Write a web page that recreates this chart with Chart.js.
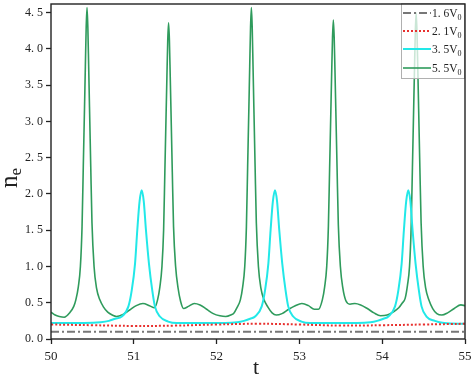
<!DOCTYPE html>
<html>
<head>
<meta charset="utf-8">
<script src="https://cdn.jsdelivr.net/npm/chart.js@4.4.1/dist/chart.umd.min.js"></script>
<style>
  html, body { margin: 0; padding: 0; background: #fff; }
  #wrap { width: 474px; height: 375px; }
</style>
</head>
<body>
<div id="wrap"><canvas id="chartNe"></canvas></div>
<script>
// ── data ────────────────────────────────────────────────
const legendLabels = ['1. 6', '2. 1', '3. 5', '5. 5'];
const xTicks = [50, 51, 52, 53, 54, 55];
const yTicks = [0, 0.5, 1, 1.5, 2, 2.5, 3, 3.5, 4, 4.5];

const t16 = [50, 55];
const n16 = [0.1, 0.1];

const t21 = [50, 50.5, 51, 51.5, 52, 52.5, 53, 53.5, 54, 54.5, 55];
const n21 = [0.2, 0.19, 0.18, 0.185, 0.2, 0.21, 0.2, 0.185, 0.19, 0.2, 0.21];

const t35 = [
  50.00, 50.40, 50.60, 50.70, 50.775, 50.855, 50.935, 50.975, 51.015, 51.042, 51.07, 51.095,
  51.12, 51.147, 51.183, 51.223, 51.255, 51.315, 51.415, 51.52,
  52.10, 52.25, 52.33, 52.405, 52.465, 52.545, 52.585, 52.625, 52.652, 52.68, 52.705,
  52.73, 52.757, 52.793, 52.833, 52.865, 52.925, 53.025, 53.13,
  53.70, 53.86, 53.94, 54.015, 54.075, 54.155, 54.195, 54.235, 54.262, 54.29, 54.315,
  54.34, 54.367, 54.403, 54.443, 54.475, 54.535, 54.635, 54.75, 55.00,
];
const n35 = [
  0.22, 0.22, 0.23, 0.25, 0.28, 0.31, 0.45, 0.67, 1.04, 1.50, 1.90, 2.05,
  1.90, 1.50, 1.04, 0.67, 0.45, 0.31, 0.24, 0.22,
  0.22, 0.23, 0.25, 0.28, 0.31, 0.45, 0.67, 1.04, 1.50, 1.90, 2.05,
  1.90, 1.50, 1.04, 0.67, 0.45, 0.31, 0.24, 0.22,
  0.22, 0.23, 0.25, 0.28, 0.31, 0.45, 0.67, 1.04, 1.50, 1.90, 2.05,
  1.90, 1.50, 1.04, 0.67, 0.45, 0.31, 0.25, 0.22, 0.21,
];

const t55 = [
  50.00, 50.05, 50.10, 50.16, 50.225, 50.275, 50.30, 50.33, 50.355, 50.375, 50.39, 50.405,
  50.415, 50.425, 50.435, 50.445, 50.455, 50.465, 50.48, 50.495, 50.52, 50.55, 50.59,
  50.635, 50.685, 50.74, 50.79, 50.87, 50.95, 51.03, 51.11, 51.19, 51.25,
  51.287, 51.315, 51.34, 51.36, 51.375, 51.39, 51.40, 51.41, 51.42, 51.43, 51.44, 51.45,
  51.465, 51.48, 51.505, 51.535, 51.565, 51.60, 51.66, 51.73, 51.80, 51.88, 51.96, 52.04,
  52.11, 52.17, 52.21, 52.245,
  52.287, 52.315, 52.34, 52.36, 52.375, 52.39, 52.40, 52.41, 52.42, 52.43, 52.44, 52.45,
  52.465, 52.48, 52.505, 52.535, 52.573, 52.62, 52.67, 52.72, 52.79, 52.87, 52.95, 53.03,
  53.11, 53.18, 53.23,
  53.277, 53.305, 53.33, 53.35, 53.365, 53.38, 53.39, 53.40, 53.41, 53.42, 53.43, 53.44,
  53.455, 53.47, 53.495, 53.525, 53.56, 53.61, 53.67, 53.74, 53.82, 53.90, 53.98, 54.06,
  54.13, 54.20, 54.245,
  54.277, 54.305, 54.33, 54.35, 54.365, 54.38, 54.39, 54.40, 54.41, 54.42, 54.43, 54.44,
  54.455, 54.47, 54.495, 54.525, 54.563, 54.61, 54.66, 54.72, 54.79, 54.87, 54.95, 55.00,
];
const n55 = [
  0.37, 0.33, 0.31, 0.30, 0.36, 0.45, 0.54, 0.72, 1.00, 1.55, 2.38, 3.20,
  3.76, 4.30, 4.57, 4.30, 3.76, 3.20, 2.38, 1.60, 1.00, 0.70, 0.54,
  0.44, 0.37, 0.33, 0.31, 0.34, 0.40, 0.46, 0.49, 0.46, 0.43,
  0.54, 0.72, 1.00, 1.50, 2.30, 3.10, 3.62, 4.12, 4.36, 4.12, 3.62, 3.10,
  2.30, 1.55, 1.00, 0.70, 0.52, 0.42, 0.45, 0.49, 0.47, 0.41, 0.35, 0.32,
  0.31, 0.33, 0.36, 0.43,
  0.54, 0.72, 1.00, 1.55, 2.38, 3.20, 3.76, 4.30, 4.57, 4.30, 3.76, 3.20,
  2.38, 1.60, 1.00, 0.70, 0.54, 0.44, 0.36, 0.33, 0.35, 0.41, 0.46, 0.49,
  0.46, 0.41, 0.41,
  0.54, 0.72, 1.00, 1.55, 2.35, 3.15, 3.68, 4.16, 4.40, 4.16, 3.68, 3.15,
  2.35, 1.58, 1.00, 0.70, 0.53, 0.48, 0.49, 0.47, 0.42, 0.36, 0.32, 0.33,
  0.37, 0.43, 0.50,
  0.56, 0.74, 1.00, 1.55, 2.36, 3.18, 3.72, 4.24, 4.50, 4.24, 3.72, 3.18,
  2.36, 1.60, 1.00, 0.70, 0.54, 0.42, 0.35, 0.33, 0.36, 0.42, 0.47, 0.46,
];

const pts = (ts, ns) => ts.map((t, i) => ({ x: t, y: ns[i] }));
const SERIF = '"Liberation Serif", "DejaVu Serif", serif';

// frame, axis titles and the in-plot legend
const decor = {
  id: 'decor',
  afterDatasetsDraw(chart) {
    const { ctx, chartArea: a } = chart;
    const ds = chart.data.datasets;
    ctx.save();

    // legend box
    const lx = 401, ly = 3, lw = 64, lh = 76;
    ctx.fillStyle = 'rgba(255,255,255,0.75)';
    ctx.fillRect(lx, ly, lw, lh);
    ctx.strokeStyle = '#b0b0b0';
    ctx.lineWidth = 1;
    ctx.strokeRect(lx + 0.5, ly + 0.5, lw - 1, lh - 1);
    const rows = [13, 31, 49, 68];
    legendLabels.forEach((lab, i) => {
      const d = ds[i];
      ctx.beginPath();
      ctx.setLineDash(d.borderDash || []);
      ctx.strokeStyle = d.borderColor;
      ctx.lineWidth = d.borderWidth;
      ctx.moveTo(403, rows[i]);
      ctx.lineTo(431, rows[i]);
      ctx.stroke();
      ctx.setLineDash([]);
      ctx.fillStyle = '#222';
      ctx.textBaseline = 'alphabetic';
      ctx.textAlign = 'left';
      ctx.font = '11.5px ' + SERIF;
      const s = lab + 'V';
      ctx.fillText(s, 432, rows[i] + 4);
      const w = ctx.measureText(s).width;
      ctx.font = '8px ' + SERIF;
      ctx.fillText('0', 432 + w, rows[i] + 7);
    });

    // frame
    ctx.strokeStyle = '#222';
    ctx.lineWidth = 1.4;
    ctx.strokeRect(a.left, a.top, a.right - a.left, a.bottom - a.top);

    // y title n_e
    ctx.fillStyle = '#222';
    ctx.translate(17, 188);
    ctx.rotate(-Math.PI / 2);
    ctx.font = '25px ' + SERIF;
    ctx.textAlign = 'left';
    ctx.fillText('n', 0, 0);
    const nw = ctx.measureText('n').width;
    ctx.font = '17px ' + SERIF;
    ctx.fillText('e', nw, 4);
    ctx.restore();

    // x title
    ctx.save();
    ctx.fillStyle = '#222';
    ctx.font = '22px ' + SERIF;
    ctx.textAlign = 'center';
    ctx.fillText('t', 256, 374);
    ctx.restore();
  },
};

new Chart(document.getElementById('chartNe'), {
  type: 'line',
  data: {
    datasets: [
      {
        data: pts(t16, n16),
        borderColor: '#777777',
        borderWidth: 2,
        borderDash: [8, 3, 2, 3],
        pointRadius: 0,
        tension: 0,
      },
      {
        data: pts(t21, n21),
        borderColor: '#e8302e',
        borderWidth: 2,
        borderDash: [2, 2],
        pointRadius: 0,
        tension: 0.4,
      },
      {
        data: pts(t35, n35),
        borderColor: '#22e8e8',
        borderWidth: 2,
        pointRadius: 0,
        cubicInterpolationMode: 'monotone',
      },
      {
        data: pts(t55, n55),
        borderColor: '#2f9b5c',
        borderWidth: 1.6,
        pointRadius: 0,
        cubicInterpolationMode: 'monotone',
      },
    ],
  },
  options: {
    responsive: true,
    maintainAspectRatio: false,
    animation: false,
    layout: { padding: { top: 4, right: 9, left: 0, bottom: 0 } },
    plugins: {
      legend: { display: false },
      tooltip: { enabled: false },
    },
    scales: {
      x: {
        type: 'linear',
        min: 50,
        max: 55,
        afterBuildTicks: s => { s.ticks = xTicks.map(v => ({ value: v })); },
        afterFit: s => { s.height = 36; s.paddingLeft = 0; s.paddingRight = 0; },
        border: { display: false },
        grid: { drawOnChartArea: false, drawTicks: true, tickLength: 5, tickColor: '#222', tickWidth: 1.3 },
        ticks: {
          padding: 5,
          color: '#222',
          font: { family: SERIF, size: 13 },
          maxRotation: 0,
          callback: v => String(v),
        },
      },
      y: {
        min: 0,
        max: 4.62,
        afterBuildTicks: s => { s.ticks = yTicks.map(v => ({ value: v })); },
        afterFit: s => { s.width = 51; s.paddingTop = 0; s.paddingBottom = 0; },
        border: { display: false },
        grid: { drawOnChartArea: false, drawTicks: true, tickLength: 5, tickColor: '#222', tickWidth: 1.3 },
        ticks: {
          padding: 3,
          color: '#222',
          font: { family: SERIF, size: 12 },
          callback: v => v.toFixed(1).replace('.', '. '),
        },
      },
    },
  },
  plugins: [decor],
});
</script>
</body>
</html>
